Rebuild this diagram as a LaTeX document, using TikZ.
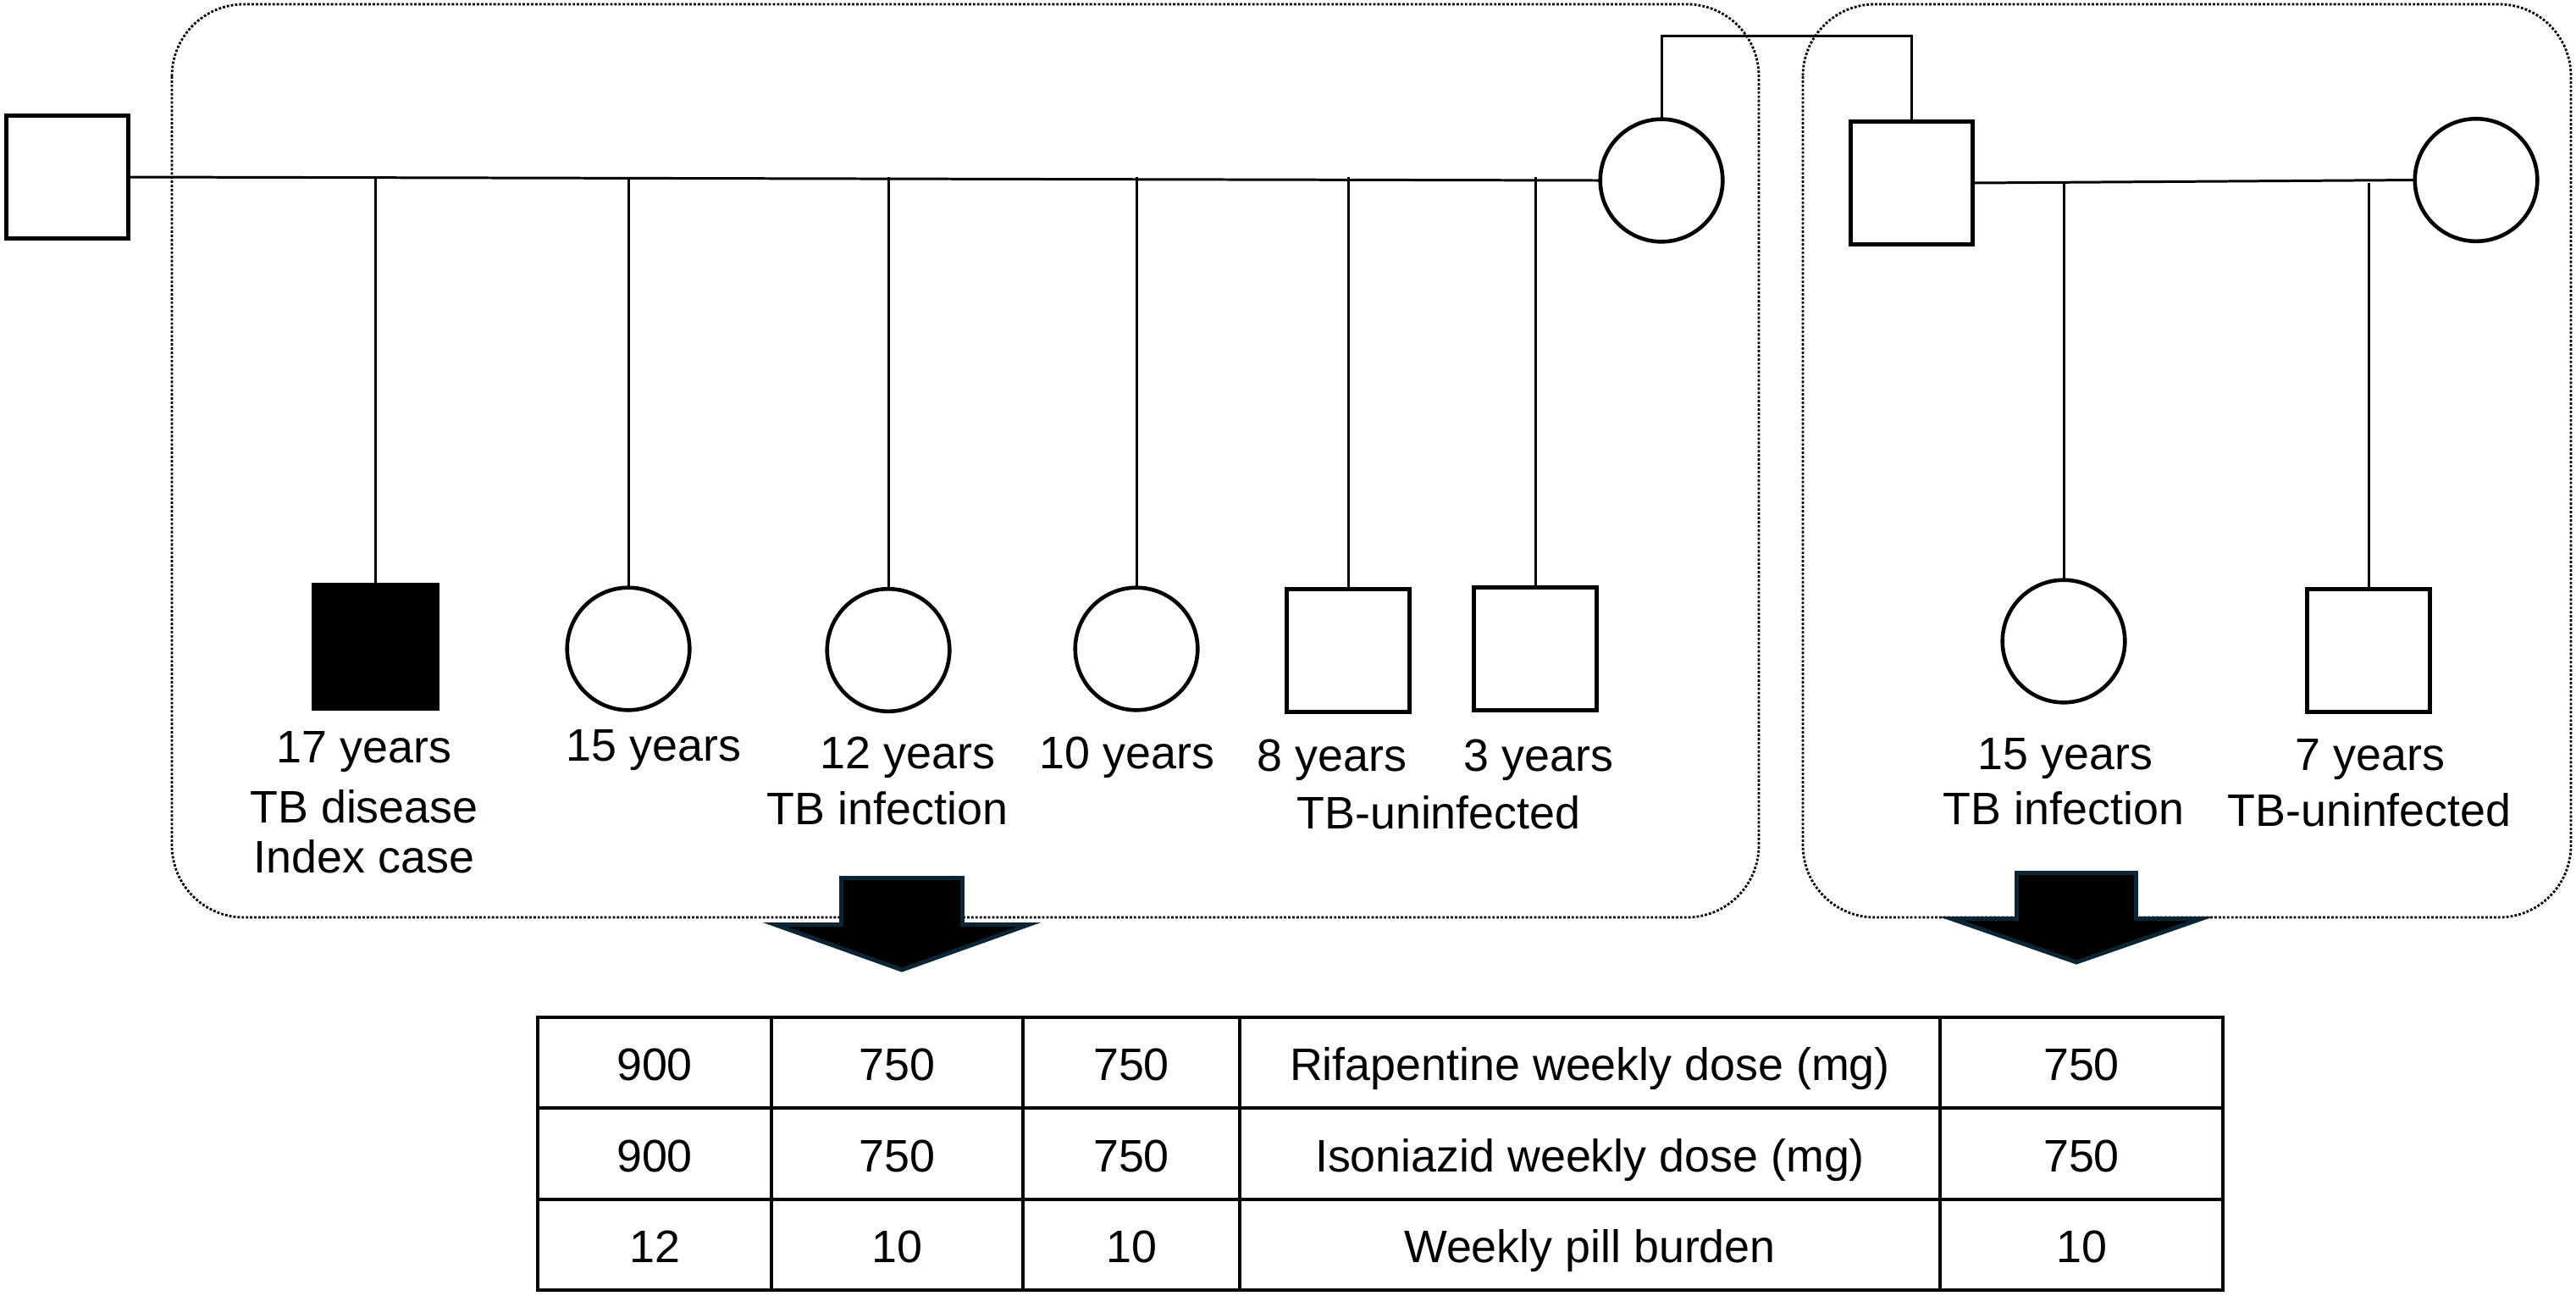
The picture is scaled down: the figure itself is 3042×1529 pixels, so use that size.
\documentclass[tikz,border=0pt]{standalone}
\usepackage{fontspec}
\setmainfont{Liberation Sans}
\newcommand{\lbfont}{\fontsize{15.3pt}{18pt}\selectfont}
\definecolor{navy}{HTML}{0B2535}
\begin{document}
\begin{tikzpicture}[x=0.01cm,y=-0.01cm,
  male/.style={draw, line width=1.42pt, rectangle, minimum size=1.44cm, inner sep=0, outer sep=0},
  female/.style={draw, line width=1.3pt, circle, minimum size=1.445cm, inner sep=0, outer sep=0},
  affected/.style={fill=black, draw=none, rectangle, minimum size=1.51cm, inner sep=0, outer sep=0},
  conn/.style={line width=0.85pt},
  lbl/.style={anchor=base, inner sep=0, font=\lbfont},
  famebox/.style={draw, line width=0.8pt, dash pattern=on 0.8pt off 0.6pt, rounded corners=0.85cm},
  bigarrow/.style={fill=black, draw=navy, line width=1.4pt, line join=miter},
  tline/.style={line width=1pt},
  cell/.style={anchor=base, inner sep=0, font=\lbfont}]
\useasboundingbox (0,0) rectangle (3042,1529);

% family boxes
\draw[famebox] (203,5) rectangle (2077,1083);
\draw[famebox] (2129,5) rectangle (3036,1083);

% parents generation
\node[male] (f1) at (79.5,209) {};
\node[female] (mo) at (1962,213) {};
\node[male] (h2) at (2257.5,216) {};
\node[female] (wi) at (2924,212.5) {};

\draw[conn] (f1.east) -- (mo.west);
\draw[conn] (h2.east) -- (wi.west);
\coordinate (pl) at (2110,42);
\draw[conn] (mo.north) -- (mo.north |- pl) -- (h2.north |- pl) -- (h2.north);

% children, left family
\node[affected] (c1) at (443.5,763.5) {};
\node[female] (c2) at (742,766) {};
\node[female] (c3) at (1049,767.5) {};
\node[female] (c4) at (1342,766) {};
\node[male] (c5) at (1592,768) {};
\node[male] (c6) at (1813,766) {};
% children, right family
\node[female] (c7) at (2437,757) {};
\node[male] (c8) at (2797,768) {};

\foreach \c in {c1,c2,c3,c4,c5,c6}
  \draw[conn] (\c.north) -- (\c.north |- f1.east);
\foreach \c in {c7,c8}
  \draw[conn] (\c.north) -- (\c.north |- h2.east);

% labels
\node[lbl] (l1a) at (430,900) {17 years};
\node[lbl] (l1b) at (430,971) {TB disease};
\node[lbl] (l1c) at (430,1030) {Index case};
\node[lbl] (l2a) at (772,898) {15 years};
\node[lbl] (l3a) at (1072,907) {12 years};
\node[lbl] (l3b) at (1048,973) {TB infection};
\node[lbl] (l4a) at (1331,907) {10 years};
\node[lbl] (l5a) at (1573,910) {8 years};
\node[lbl] (l6a) at (1817,910) {3 years};
\node[lbl] (l56b) at (1699,978) {TB-uninfected};
\node[lbl] (l7a) at (2439,908) {15 years};
\node[lbl] (l7b) at (2437,973) {TB infection};
\node[lbl] (l8a) at (2799,909) {7 years};
\node[lbl] (l8b) at (2798,975) {TB-uninfected};

% big arrows
\draw[bigarrow] (993.5,1036.5) -- (1136.5,1036.5) -- (1136.5,1091.5) -- (1215,1091.5)
  -- (1065,1145) -- (915,1091.5) -- (993.5,1091.5) -- cycle;
\draw[bigarrow] (2381.5,1030.5) -- (2522.5,1030.5) -- (2522.5,1084.5) -- (2600,1084.5)
  -- (2452,1136) -- (2304,1084.5) -- (2381.5,1084.5) -- cycle;

% table
\draw[tline] (635,1201) rectangle (2625,1523);
\foreach \yy in {1308,1416}
  \draw[tline] (635,\yy) -- (2625,\yy);
\foreach \xx in {911,1208,1464,2291}
  \draw[tline] (\xx,1201) -- (\xx,1523);

\node[cell] (t11) at (773,1275) {900};
\node[cell] (t12) at (1059.5,1275) {750};
\node[cell] (t13) at (1336,1275) {750};
\node[cell] (t14) at (1877.5,1275) {Rifapentine weekly dose (mg)};
\node[cell] (t15) at (2458,1275) {750};
\node[cell] (t21) at (773,1383) {900};
\node[cell] (t22) at (1059.5,1383) {750};
\node[cell] (t23) at (1336,1383) {750};
\node[cell] (t24) at (1877.5,1383) {Isoniazid weekly dose (mg)};
\node[cell] (t25) at (2458,1383) {750};
\node[cell] (t31) at (773,1490) {12};
\node[cell] (t32) at (1059.5,1490) {10};
\node[cell] (t33) at (1336,1490) {10};
\node[cell] (t34) at (1877.5,1490) {Weekly pill burden};
\node[cell] (t35) at (2458,1490) {10};
\end{tikzpicture}
\end{document}
